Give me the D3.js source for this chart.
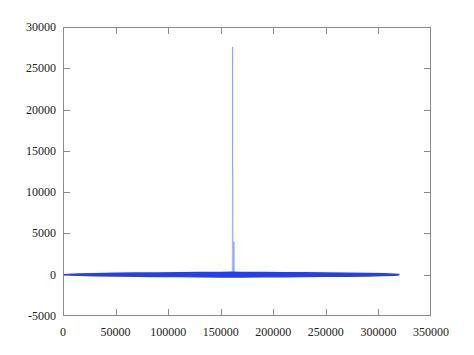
<!DOCTYPE html>
<html><head><meta charset="utf-8">
<script src="https://cdn.jsdelivr.net/npm/d3@7"></script>
<style>body{margin:0;background:#fff}svg{display:block}</style>
</head><body>
<script>
// Noise band envelope (sample index vs. amplitude)
const bandX     = [0, 5000, 15000, 30000, 50000, 70000, 90000, 110000, 130000, 150000, 160000, 170000, 190000, 210000, 230000, 250000, 270000, 290000, 305000, 315000, 320000];
const bandUpper = [80, 130, 180, 220, 260, 290, 310, 330, 350, 370, 380, 370, 350, 340, 320, 300, 280, 250, 210, 160, 110];
const bandLower = [-80, -120, -170, -210, -250, -280, -300, -320, -340, -360, -370, -360, -345, -330, -310, -290, -270, -240, -200, -150, -100];
// Spikes near the centre
const spikeX = [161000, 161400, 161800, 162200, 162600, 163000];
const spikeY = [0, 27600, 0, 0, 4000, 0];
// Axis ticks
const xTicks = [0, 50000, 100000, 150000, 200000, 250000, 300000, 350000];
const yTicks = [-5000, 0, 5000, 10000, 15000, 20000, 25000, 30000];

const W = 474, H = 355;
const L = 63, R = 431, T = 27, B = 316;
const svg = d3.select("body").append("svg").attr("width", W).attr("height", H);
const x = d3.scaleLinear().domain([0, 350000]).range([L, R]);
const y = d3.scaleLinear().domain([-5000, 30000]).range([B, T]);

const blue = "#2440e6";
const area = d3.area().x((d,i) => x(bandX[i])).y0((d,i) => y(bandLower[i])).y1((d,i) => y(bandUpper[i]));
svg.append("path").datum(bandX).attr("d", area).attr("fill", blue);

const line = d3.line().x((d,i) => x(spikeX[i])).y((d,i) => y(spikeY[i]));
svg.append("path").datum(spikeX).attr("d", line).attr("fill", "none").attr("stroke", blue).attr("stroke-width", 0.6).attr("stroke-opacity", 0.55);

const axisColor = "#8c8c8c";
const tl = 7;
const g = svg.append("g").attr("stroke", axisColor).attr("stroke-width", 1).attr("fill", "none");
g.append("rect").attr("x", L + 0.5).attr("y", T + 0.5).attr("width", R - L - 1).attr("height", B - T - 1);
xTicks.forEach(v => {
  const px = Math.min(Math.round(x(v)), R - 1) + 0.5;
  g.append("line").attr("x1", px).attr("x2", px).attr("y1", B).attr("y2", B - tl);
  g.append("line").attr("x1", px).attr("x2", px).attr("y1", T).attr("y2", T + tl);
});
yTicks.forEach(v => {
  const py = Math.min(Math.round(y(v)), B - 1) + 0.5;
  g.append("line").attr("y1", py).attr("y2", py).attr("x1", L).attr("x2", L + tl);
  g.append("line").attr("y1", py).attr("y2", py).attr("x1", R).attr("x2", R - tl);
});

const font = "'Liberation Serif', 'Times New Roman', serif";
svg.append("g").selectAll("text").data(xTicks).join("text")
  .attr("x", d => x(d)).attr("y", 336).attr("text-anchor", "middle")
  .style("font-family", font).style("font-size", "12px").attr("fill", "#222")
  .text(d => d);
svg.append("g").selectAll("text").data(yTicks).join("text")
  .attr("x", 56).attr("y", d => y(d) + 4).attr("text-anchor", "end")
  .style("font-family", font).style("font-size", "12px").attr("fill", "#222")
  .text(d => d);
</script>
</body></html>
